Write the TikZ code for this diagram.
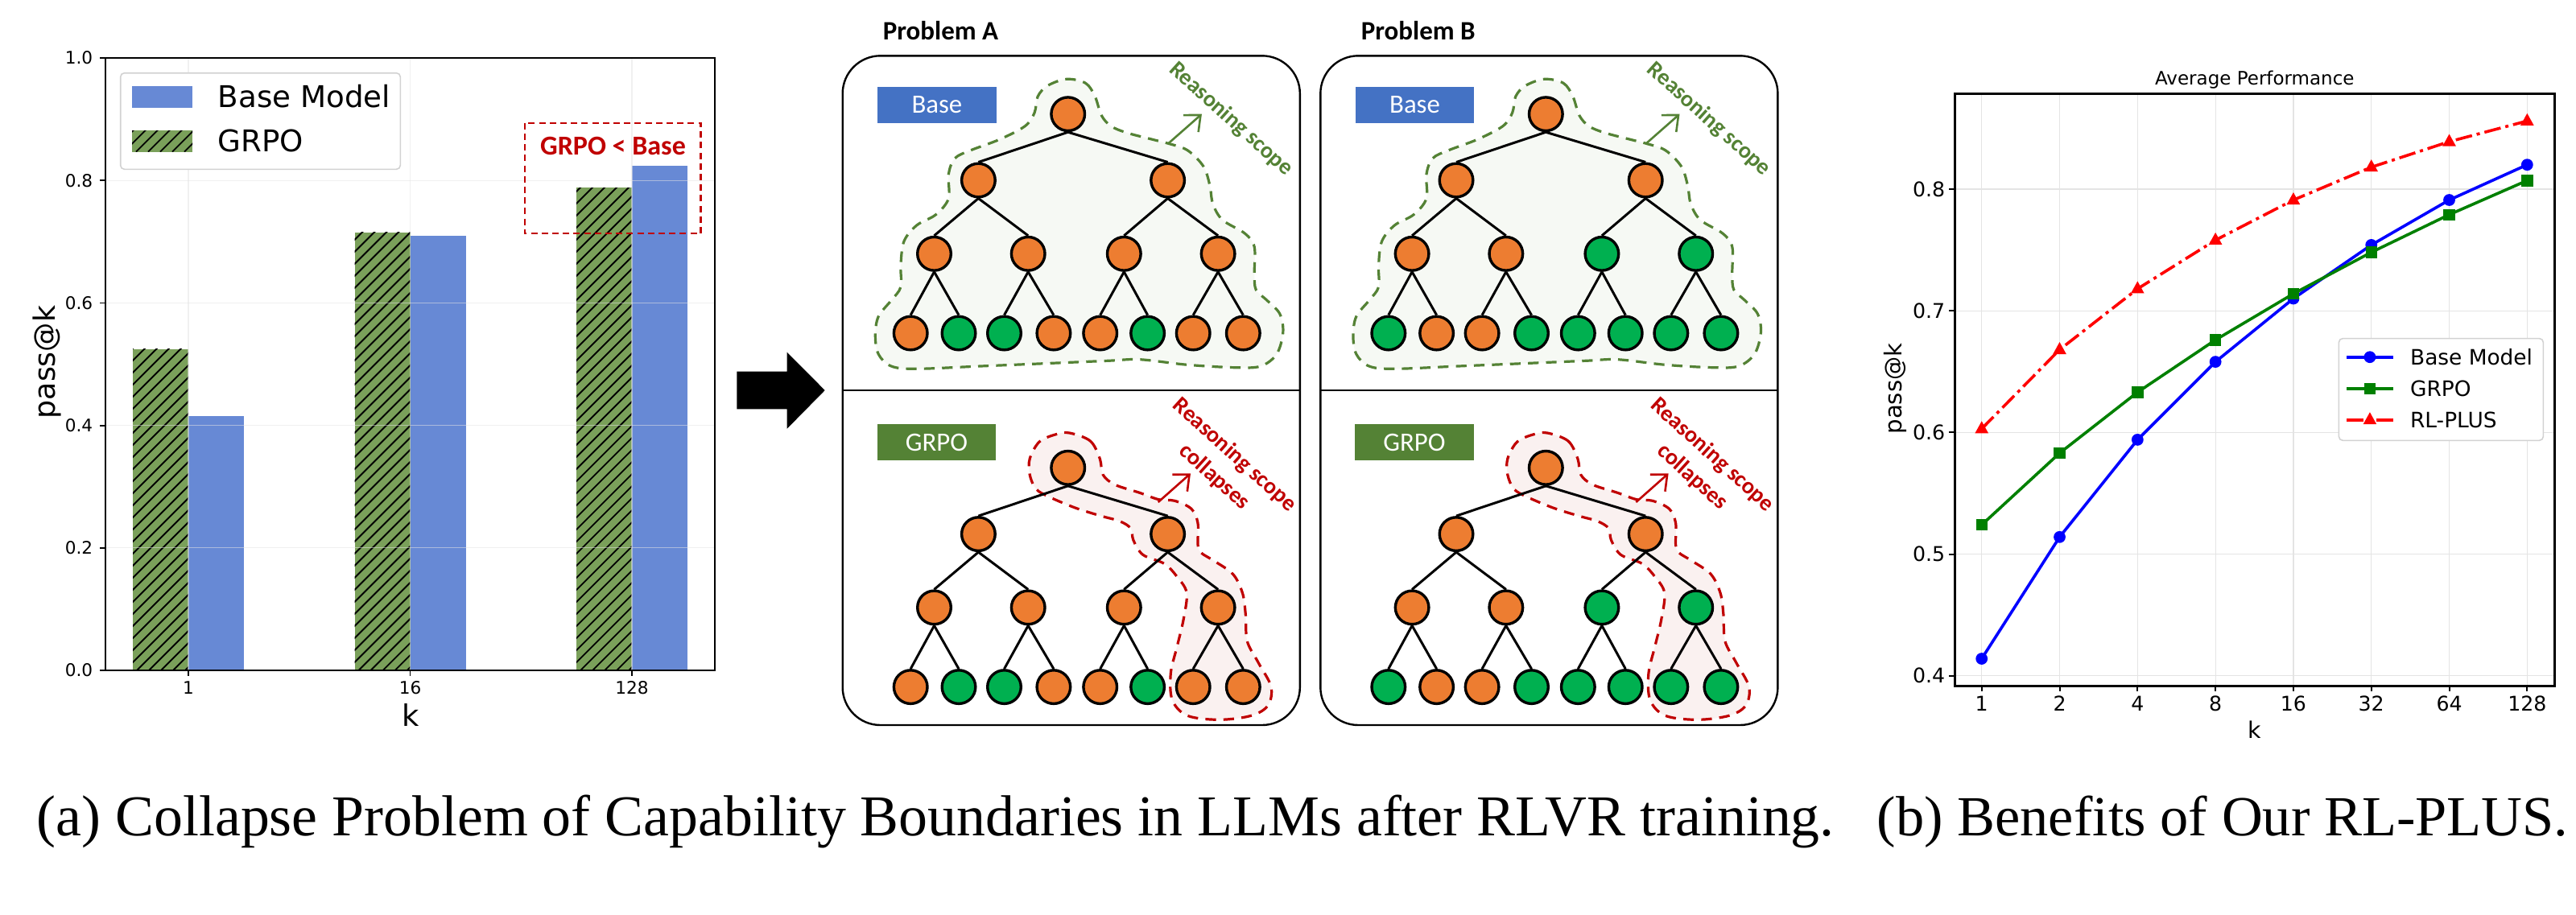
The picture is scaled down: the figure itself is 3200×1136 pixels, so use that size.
\documentclass[tikz,border=0pt]{standalone}
\usepackage{fontspec}
\setmainfont{Liberation Serif}
\newfontfamily\dvs{DejaVu Sans}
\newfontfamily\calfont{Carlito}
\usetikzlibrary{arrows.meta}
\newcommand\fsz[1]{\fontsize{#1}{#1}\selectfont}
\definecolor{orangec}{HTML}{ED7D31}
\definecolor{greenc}{HTML}{00B050}
\definecolor{labblue}{HTML}{4472C4}
\definecolor{labgreen}{HTML}{548235}
\definecolor{scopered}{HTML}{C00000}
\definecolor{gfill}{RGB}{246,249,244}
\definecolor{rfill}{RGB}{250,241,240}
\definecolor{barblue}{RGB}{103,137,213}
\definecolor{bargreen}{RGB}{122,160,90}
\definecolor{gridc}{RGB}{228,228,228}
\definecolor{legc}{RGB}{210,210,210}
\definecolor{mplblue}{RGB}{0,0,255}
\definecolor{mplgreen}{RGB}{0,128,0}
\definecolor{mplred}{RGB}{255,0,0}

\tikzset{
  tn/.style={circle,draw=black,line width=0.85pt,minimum size=10.4pt,inner sep=0pt},
  nc O/.style={fill=orangec}, nc G/.style={fill=greenc},
  te/.style={line width=0.75pt},
  labbox/.style={minimum width=36.9pt,minimum height=11.1pt,inner sep=0pt,text=white,font=\calfont\fsz{8.2}},
  gscope/.style={draw=labgreen,fill=gfill,line width=0.8pt,dash pattern=on 3.3pt off 2.3pt},
  rscope/.style={draw=scopered,fill=rfill,line width=0.8pt,dash pattern=on 3.3pt off 2.3pt},
  panel/.style={draw=black,line width=0.6pt,rounded corners=11.75pt},
  rsgreen/.style={text=labgreen,font=\calfont\bfseries\fsz{7.1},rotate=-42,inner sep=0pt},
  rsred/.style={text=scopered,font=\calfont\bfseries\fontsize{7.1}{9.25}\selectfont,rotate=-42,inner sep=0pt,align=center},
  gridl/.style={draw=gridc,line width=0.3pt},
  dtick/.style={font=\dvs\fsz{5.4},inner sep=0pt},
  ltick/.style={font=\dvs\fsz{6.3},inner sep=0pt},
  dashdotred/.style={dash pattern=on 5.2pt off 1.5pt on 1pt off 1.5pt},
}

\newcommand\hatchrect[4]{%
  \fill[bargreen] (#1,#2) rectangle (#3,#4);
  \begin{scope}
    \clip (#1,#2) rectangle (#3,#4);
    \foreach \k in {0,...,62} \draw[line width=0.45pt] ({#1-850+\k*15},#4) -- ++(900,-900);
  \end{scope}}

\newcommand\drawtree[3]{%
  \begin{scope}[shift={#2}]
    \node[tn,nc O] (#1r) at (1326.7,141.7) {};
    \node[tn,nc O] (#1a) at (1215.4,224) {};
    \node[tn,nc O] (#1b) at (1450.6,224) {};
    \foreach \c [count=\n] in {#3} {
      \pgfmathsetmacro\xx{{1160.5,1277.2,1396.3,1513.1,1131.2,1191.0,1247.5,1308.9,1366.7,1425.6,1482.2,1544.3}[\n-1]}
      \pgfmathsetmacro\yy{\n<5 ? 315.3 : 414}
      \node[tn,nc \c] (#1n\n) at (\xx,\yy) {};
    }
    \foreach \p/\q in {r/a,r/b,a/n1,a/n2,b/n3,b/n4,n1/n5,n1/n6,n2/n7,n2/n8,n3/n9,n3/n10,n4/n11,n4/n12}
      \draw[te] (#1\p.south) -- (#1\q.north);
  \end{scope}}

\newcommand\greenblob{%
  \draw[gscope] plot[smooth cycle,tension=0.55] coordinates {
  (1324.7,98.3) (1348.5,103.3) (1360.3,120) (1368.2,143.3) (1380.1,156.7) (1399.9,165)
  (1431.6,173.3) (1451.3,178.3) (1475.1,186.7) (1494.9,206.7) (1502.8,230) (1506.7,253.3)
  (1518.6,273.3) (1546.3,290) (1558.2,306.7) (1558.2,340) (1560.2,360) (1574,373.3)
  (1589.8,390) (1593.8,413.3) (1585.9,440) (1566.1,455) (1534.4,456.7) (1475.1,453.3)
  (1415.7,446.7) (1376.2,448.3) (1297,451.7) (1217.9,455) (1138.7,458.3) (1107.1,455)
  (1091.2,440) (1087.3,416.7) (1091.2,393.3) (1107.1,373.3) (1118.9,356.7) (1118.9,330)
  (1122.9,300) (1138.7,280) (1162.5,266.7) (1178.3,246.7) (1178.3,216.7) (1186.2,196.7)
  (1206,186.7) (1241.6,173.3) (1273.3,156.7) (1285.1,140) (1289.1,120) (1301,106.7)};}

\newcommand\redblob{%
  \draw[rscope] plot[smooth cycle,tension=0.55] coordinates {
  (1328.7,538) (1354.4,548) (1366.3,570) (1370.2,590) (1385.1,602.3) (1415.7,612.3)
  (1439.5,620.7) (1459.3,622.3) (1480,632.3) (1488,650) (1488,676.7) (1491.9,686.7)
  (1507.7,696.7) (1531.5,713.3) (1543.4,736.7) (1547.3,763.3) (1549.3,796.7) (1563.1,823.3)
  (1579,853.3) (1575,876.7) (1554.2,889.3) (1514.7,894.3) (1475.1,889.3) (1456.3,870)
  (1454.3,836.7) (1462.2,803.3) (1470.1,770) (1474.1,736.7) (1462.2,716.7) (1446.4,700.5)
  (1419.7,689.3) (1407.8,671) (1404.8,656.7) (1391,647.7) (1367.2,641) (1335.6,631)
  (1303.9,617.7) (1287.1,607.7) (1279.2,590) (1279.2,570) (1291.1,549) (1311.8,539.7)};}

\begin{document}
\begin{tikzpicture}[x=0.25pt,y=-0.25pt]
\useasboundingbox (0,0) rectangle (3200,1136);
\fill[white] (0,0) rectangle (3200,1136);

% ================= bar chart =================
\hatchrect{165}{433.5}{234}{833}
\fill[barblue] (234,517.2) rectangle (303,833);
\hatchrect{440.5}{288.9}{509.5}{833}
\fill[barblue] (509.5,292.7) rectangle (578.5,833);
\hatchrect{716}{233.3}{785}{833}
\fill[barblue] (785,205.9) rectangle (854,833);
\begin{scope}[opacity=0.55]
\foreach \y in {680.8,528.6,376.4,224.2} \draw[gridl] (130.7,\y) -- (887.7,\y);
\foreach \x in {234,509.5,785} \draw[gridl] (\x,72) -- (\x,833);
\end{scope}
\draw[line width=0.5pt] (130.7,72) rectangle (887.7,833);
\foreach \y/\l in {833/0.0,680.8/0.2,528.6/0.4,376.4/0.6,224.2/0.8,72/1.0} {
  \draw[line width=0.45pt] (130.7,\y) -- (123.7,\y);
  \node[dtick,anchor=east] (by\l) at (116,\y) {\l};
}
\foreach \x/\l in {234/1,509.5/16,785/128} {
  \draw[line width=0.45pt] (\x,833) -- (\x,840);
  \node[dtick] (bx\l) at (\x,855) {\l};
}
\node[font=\dvs\fsz{9.1},rotate=90,inner sep=0pt] (bylab) at (58,450) {pass@k};
\node[font=\dvs\fsz{9.2},inner sep=0pt] (bxlab) at (510,889) {k};
% legend
\draw[legc,fill=white,rounded corners=1.2pt,line width=0.4pt] (149.7,90.7) rectangle (497.3,210.3);
\fill[barblue] (164,106.7) rectangle (239,134);
\hatchrect{164}{162}{239}{188.7}
\node[font=\dvs\fsz{9.3},anchor=west,inner sep=0pt] (blegA) at (270,120) {Base Model};
\node[font=\dvs\fsz{9.3},anchor=west,inner sep=0pt] (blegB) at (270,174.5) {GRPO};
% GRPO < Base box
\draw[scopered,line width=0.55pt,dash pattern=on 2pt off 1.3pt] (652,152.7) rectangle (870.4,290.3);
\node[font=\calfont\bfseries\fsz{8.5},text=scopered,inner sep=0pt] (cmp) at (761.5,181.8) {GRPO < Base};

% ================= big arrow =================
\fill (915.3,461.7) -- (977.7,461.7) -- (977.7,437.7) -- (1024.7,485) -- (977.7,532.7) -- (977.7,508.3) -- (915.3,508.3) -- cycle;

% ================= panels =================
\node[font=\calfont\bfseries\fsz{8.25},anchor=base west,inner sep=0pt] (probA) at (1096,49.5) {Problem A};
\node[font=\calfont\bfseries\fsz{8.25},anchor=base west,inner sep=0pt] (probB) at (1690,49.5) {Problem B};

\foreach \s/\p in {0/A,593.6/B} {
  \begin{scope}[shift={(\s,0)}]
    \draw[panel] (1046.7,69.3) rectangle (1614.8,901);
    \draw[line width=0.6pt] (1046.7,485) -- (1614.8,485);
    \greenblob
    \redblob
    \node[labbox,fill=labblue] (base\p) at (1163.9,130.5) {Base};
    \node[labbox,fill=labgreen] (grpo\p) at (1163.4,549.5) {GRPO};
    \node[rsgreen] (rsg\p) at (1529,148.3) {Reasoning scope};
    \node[rsred] (rsr\p) at (1521,579.2) {Reasoning scope\\collapses};
    \coordinate (ga\p) at (1451.3,178.3);
    \coordinate (gb\p) at (1492.9,141.7);
    \draw[labgreen,line width=0.65pt,-{Straight Barb[length=4pt,width=7pt]}] (ga\p) -- (gb\p);
    \coordinate (ra\p) at (1438.7,624);
    \coordinate (rb\p) at (1479,588.3);
    \draw[scopered,line width=0.65pt,-{Straight Barb[length=4pt,width=7pt]}] (ra\p) -- (rb\p);
  \end{scope}
}
\drawtree{ta}{(0,0)}{O,O,O,O,O,G,G,O,O,G,O,O}
\drawtree{ga}{(0,439.6)}{O,O,O,O,O,G,G,O,O,G,O,O}
\drawtree{tb}{(593.6,0)}{O,O,G,G,G,O,O,G,G,G,G,G}
\drawtree{gb}{(593.6,439.6)}{O,O,G,G,G,O,O,G,G,G,G,G}

% ================= line chart =================
\foreach \x in {2461.7,2558.5,2655.3,2752.1,2848.9,2945.7,3042.5,3139.3} \draw[gridl] (\x,116.7) -- (\x,852.3);
\foreach \y in {839.7,688.5,537.3,386.1,234.9} \draw[gridl] (2428.3,\y) -- (3173.3,\y);
\draw[mplblue,line width=0.9pt] plot coordinates {(2461.7,818.5) (2558.5,667.3) (2655.3,546.4) (2752.1,449.6) (2848.9,371.0) (2945.7,304.4) (3042.5,248.5) (3139.3,204.7)};
\foreach \x/\y in {2461.7/818.5,2558.5/667.3,2655.3/546.4,2752.1/449.6,2848.9/371.0,2945.7/304.4,3042.5/248.5,3139.3/204.7}
  \fill[mplblue] (\x,\y) circle[radius=1.85pt];
\draw[mplgreen,line width=0.9pt] plot coordinates {(2461.7,652.2) (2558.5,563.0) (2655.3,487.4) (2752.1,422.4) (2848.9,365.0) (2945.7,313.5) (3042.5,266.7) (3139.3,224.3)};
\foreach \x/\y in {2461.7/652.2,2558.5/563.0,2655.3/487.4,2752.1/422.4,2848.9/365.0,2945.7/313.5,3042.5/266.7,3139.3/224.3}
  \fill[mplgreen,shift={(\x,\y)}] (-7.2,-7.2) rectangle (7.2,7.2);
\draw[mplred,line width=0.9pt,dashdotred] plot coordinates {(2461.7,532.8) (2558.5,434.5) (2655.3,358.9) (2752.1,298.4) (2848.9,248.5) (2945.7,207.7) (3042.5,176.0) (3139.3,150.3)};
\foreach \x/\y in {2461.7/532.8,2558.5/434.5,2655.3/358.9,2752.1/298.4,2848.9/248.5,2945.7/207.7,3042.5/176.0,3139.3/150.3}
  \fill[mplred,shift={(\x,\y)}] (0,-9.5) -- (8.3,5.5) -- (-8.3,5.5) -- cycle;
\draw[line width=0.7pt] (2428.3,116.7) rectangle (3173.3,852.3);
\foreach \x/\l in {2461.7/1,2558.5/2,2655.3/4,2752.1/8,2848.9/16,2945.7/32,3042.5/64,3139.3/128} {
  \draw[line width=0.5pt] (\x,852.3) -- (\x,859.3);
  \node[ltick] (lx\l) at (\x,874.3) {\l};
}
\foreach \y/\l in {839.7/0.4,688.5/0.5,537.3/0.6,386.1/0.7,234.9/0.8} {
  \draw[line width=0.5pt] (2428.3,\y) -- (2421.3,\y);
  \node[ltick,anchor=east] (ly\l) at (2417,\y) {\l};
}
\node[font=\dvs\fsz{5.75},inner sep=0pt] (ltitle) at (2800.8,99) {Average Performance};
\node[font=\dvs\fsz{7.3},rotate=90,inner sep=0pt] (lylab) at (2354,483) {pass@k};
\node[font=\dvs\fsz{7.1},inner sep=0pt] (lxlab) at (2801,906.7) {k};
% legend
\draw[legc,fill=white,rounded corners=1.2pt,line width=0.4pt] (2905.4,420.6) rectangle (3159.3,547.3);
\draw[mplblue,line width=0.9pt] (2915,443.7) -- (2972.7,443.7);
\fill[mplblue] (2943.9,443.7) circle[radius=1.85pt];
\draw[mplgreen,line width=0.9pt] (2915,482.7) -- (2972.7,482.7);
\fill[mplgreen] (2936.7,475.5) rectangle (2951.1,489.9);
\draw[mplred,line width=0.9pt,dashdotred] (2915,521.7) -- (2972.7,521.7);
\fill[mplred,shift={(2943.9,521.7)}] (0,-9.5) -- (8.3,5.5) -- (-8.3,5.5) -- cycle;
\node[font=\dvs\fsz{6.6},anchor=west,inner sep=0pt] (llA) at (2993.3,443.7) {Base Model};
\node[font=\dvs\fsz{6.6},anchor=west,inner sep=0pt] (llB) at (2993.3,482.7) {GRPO};
\node[font=\dvs\fsz{6.6},anchor=west,inner sep=0pt] (llC) at (2993.3,521.7) {RL-PLUS};

% ================= captions =================
\node[font=\fsz{17.95},anchor=base west,inner sep=0pt] (capA) at (45,1038.3) {(a) Collapse Problem of Capability Boundaries in LLMs after RLVR training.};
\node[font=\fsz{17.6},anchor=base west,inner sep=0pt] (capB) at (2331,1038.3) {(b) Benefits of Our RL-PLUS.};
\end{tikzpicture}
\end{document}
